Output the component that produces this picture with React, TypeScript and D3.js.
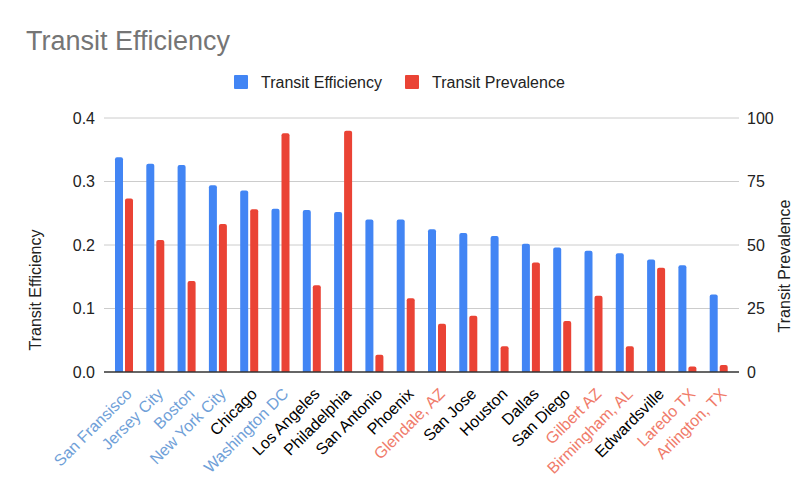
import React from "react";
import * as d3 from "d3";

const categories = [
  "San Fransisco", "Jersey City", "Boston", "New York City", "Chicago",
  "Washington DC", "Los Angeles", "Philadelphia", "San Antonio", "Phoenix",
  "Glendale, AZ", "San Jose", "Houston", "Dallas", "San Diego",
  "Gilbert AZ", "Birmingham, AL", "Edwardsville", "Laredo TX", "Arlington, TX",
];
const efficiency = [
  0.338, 0.328, 0.326, 0.294, 0.286, 0.257, 0.255, 0.252, 0.240, 0.240,
  0.225, 0.219, 0.214, 0.202, 0.196, 0.191, 0.187, 0.177, 0.168, 0.122,
];
const prevalence = [
  68.3, 52.0, 35.8, 58.3, 64.1, 94.0, 34.2, 95.0, 6.8, 29.0,
  19.0, 22.1, 10.1, 43.1, 20.1, 30.0, 10.1, 41.0, 2.2, 2.8,
];
const labelGroups = [
  "big", "big", "big", "big", "mid", "big", "mid", "mid", "mid", "mid",
  "small", "mid", "mid", "mid", "mid", "small", "small", "mid", "small", "small",
];
const leftTicks = [0, 0.1, 0.2, 0.3, 0.4];
const rightTicks = [0, 25, 50, 75, 100];
const seriesNames = ["Transit Efficiency", "Transit Prevalence"];

const BLUE = "#4285f4";
const RED = "#ea4335";
const groupColor: Record<string, string> = {
  big: "#6fa0d8",
  mid: "#000000",
  small: "#f07b6a",
};
const FONT = "Arial, 'Liberation Sans', sans-serif";

function roundTopBar(x: number, y: number, w: number, h: number, r: number) {
  if (h <= 0) return "";
  const rr = Math.min(r, h, w / 2);
  return `M${x},${y + h}V${y + rr}Q${x},${y} ${x + rr},${y}H${x + w - rr}Q${x + w},${y} ${x + w},${y + rr}V${y + h}Z`;
}

export default function App() {
  const W = 800, H = 495;
  const plotLeft = 104, plotRight = 739, plotTop = 118, plotBottom = 372;
  const x = d3.scaleBand<string>().domain(categories).range([108.35, 734.35]).padding(0);
  const yL = d3.scaleLinear().domain([0, 0.4]).range([plotBottom, plotTop]);
  const yR = d3.scaleLinear().domain([0, 100]).range([plotBottom, plotTop]);
  const barW = 8, gap = 2;

  return (
    <svg width={W} height={H} style={{ position: "fixed", left: 0, top: 0, display: "block", background: "#fff" }} fontFamily={FONT}>
      <rect width={W} height={H} fill="#fff" />
      <text x={26} y={50} fontSize={27} fill="#757575">Transit Efficiency</text>

      {/* legend */}
      <rect x={234} y={75} width={14} height={14} rx={1} fill={BLUE} />
      <text x={261} y={87.5} fontSize={16} fill="#222">{seriesNames[0]}</text>
      <rect x={405} y={75} width={14} height={14} rx={1} fill={RED} />
      <text x={432} y={87.5} fontSize={16} fill="#222">{seriesNames[1]}</text>

      {/* gridlines */}
      {leftTicks.slice(1).map((t) => (
        <line key={t} x1={plotLeft} x2={plotRight} y1={yL(t)} y2={yL(t)} stroke="#cccccc" strokeWidth={1} />
      ))}
      {leftTicks.map((t) => (
        <text key={t} x={95} y={yL(t)} dy="0.35em" textAnchor="end" fontSize={16} fill="#222">{d3.format(".1f")(t)}</text>
      ))}
      {rightTicks.map((t) => (
        <text key={t} x={747} y={yR(t)} dy="0.35em" textAnchor="start" fontSize={16} fill="#222">{t}</text>
      ))}

      {/* bars */}
      {categories.map((c, i) => {
        const cx = (x(c) as number) + x.bandwidth() / 2;
        const bx = cx - gap / 2 - barW;
        const rx = cx + gap / 2;
        return (
          <g key={c}>
            <path d={roundTopBar(bx, yL(efficiency[i]), barW, plotBottom - yL(efficiency[i]), 2)} fill={BLUE} />
            <path d={roundTopBar(rx, yR(prevalence[i]), barW, plotBottom - yR(prevalence[i]), 2)} fill={RED} />
          </g>
        );
      })}

      <line x1={plotLeft} x2={plotRight} y1={plotBottom} y2={plotBottom} stroke="#333" strokeWidth={1.5} />

      {/* x labels */}
      {categories.map((c, i) => {
        const cx = (x(c) as number) + x.bandwidth() / 2;
        const ax = cx + 1, ay = 387;
        return (
          <text key={c} x={ax} y={ay} dy="0.7em" textAnchor="end" fontSize={16}
            fill={groupColor[labelGroups[i]]} transform={`rotate(-45 ${ax} ${ay})`}>{c}</text>
        );
      })}

      {/* axis titles */}
      <text transform="translate(41,290) rotate(-90)" textAnchor="middle" fontSize={16} fill="#222">Transit Efficiency</text>
      <text transform="translate(790,266) rotate(-90)" textAnchor="middle" fontSize={16} fill="#222">Transit Prevalence</text>
    </svg>
  );
}
